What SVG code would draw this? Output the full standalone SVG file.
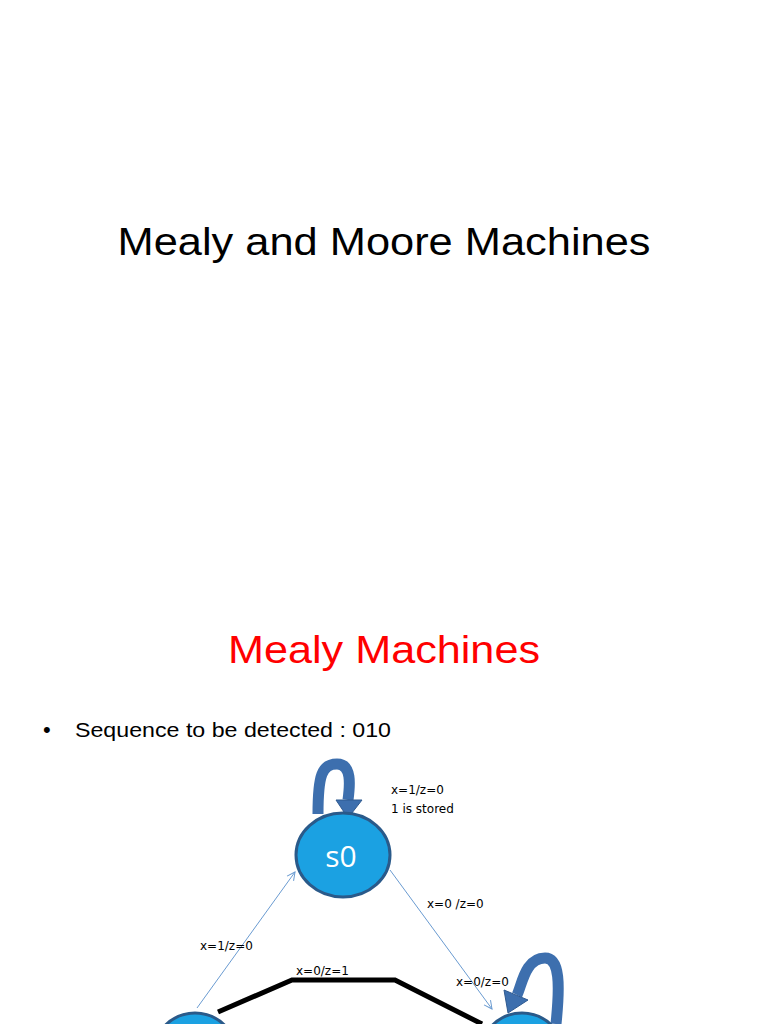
<svg xmlns="http://www.w3.org/2000/svg" width="768" height="1024" viewBox="0 0 768 1024">
<style>
.t{font-family:"Liberation Sans",Arial,sans-serif}
.st{fill:#1ba1e2;stroke:#2a5a8a;stroke-width:3}
.sl{fill:#fff;font-family:"Open Sans","Liberation Sans",sans-serif;font-size:30px}
.lb{font-family:"DejaVu Sans",sans-serif;font-size:12px;fill:#000}
.edge{stroke:#6a9bd1;stroke-width:1;fill:none;marker-end:url(#ah)}
.loop{fill:none;stroke:#3d6fae;stroke-width:11}
.head{fill:#3d6fae;stroke:#2f5a90;stroke-width:1}
</style>
<defs>
<marker id="ah" markerWidth="10" markerHeight="10" refX="9" refY="5" orient="auto" markerUnits="userSpaceOnUse">
<path d="M1,1 L9,5 L1,9" fill="none" stroke="#6a9bd1" stroke-width="1"/>
</marker>
</defs>
<rect width="768" height="1024" fill="#fff"/>
<text class="t" x="384" y="255" font-size="38" text-anchor="middle" textLength="533" lengthAdjust="spacingAndGlyphs">Mealy and Moore Machines</text>
<text class="t" x="384" y="663" font-size="38" fill="#ff0000" text-anchor="middle" textLength="312" lengthAdjust="spacingAndGlyphs">Mealy Machines</text>
<text class="t" x="43" y="737" font-size="22">•</text>
<text class="t" x="75" y="737" font-size="21" textLength="316" lengthAdjust="spacingAndGlyphs">Sequence to be detected : 010</text>
<g id="connectors">
<line class="edge" x1="197" y1="1008" x2="295" y2="872"/>
<line class="edge" x1="390" y1="870" x2="492" y2="1009"/>
<polyline points="218,1012 292,980 395,980 482,1024" fill="none" stroke="#000" stroke-width="5"/>
<path class="loop" d="M318,814 C318,775 322,764 337,764 C352,764 350,785 348,800"/>
<polygon class="head" points="336,800 362,800 348,818"/>
<path class="loop" d="M556,1024 C560,985 560,958 545,958 C525,958 522,985 517,995"/>
<polygon class="head" points="504,990 528,1000 508,1013"/>
<text class="lb" x="391" y="794">x=1/z=0</text>
<text class="lb" x="391" y="813">1 is stored</text>
<text class="lb" x="427" y="908">x=0 /z=0</text>
<text class="lb" x="200" y="950">x=1/z=0</text>
<text class="lb" x="296" y="975">x=0/z=1</text>
<text class="lb" x="456" y="986">x=0/z=0</text>
</g>
<g id="s0">
<ellipse class="st" cx="343" cy="855" rx="47" ry="42"/>
<text class="sl" x="341" y="867" text-anchor="middle">s0</text>
</g>
<g id="s2">
<ellipse class="st" cx="195" cy="1055" rx="42" ry="42"/>
</g>
<g id="s1">
<ellipse class="st" cx="522" cy="1055" rx="42" ry="42"/>
</g>
</svg>
